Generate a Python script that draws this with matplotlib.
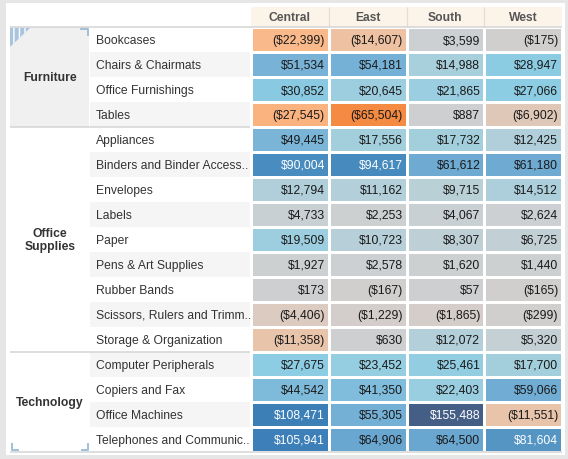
import matplotlib
matplotlib.use('Agg')
import matplotlib.pyplot as plt
import numpy as np
from matplotlib.colors import LinearSegmentedColormap, TwoSlopeNorm
from matplotlib.patches import Polygon

plt.rcParams['font.family'] = ['Liberation Sans', 'DejaVu Sans']

regions = ['Central', 'East', 'South', 'West']
categories = ['Furniture', 'Office\nSupplies', 'Technology']
category_sizes = [4, 9, 4]
sub_categories = ['Bookcases', 'Chairs & Chairmats', 'Office Furnishings', 'Tables',
                  'Appliances', 'Binders and Binder Access..', 'Envelopes', 'Labels',
                  'Paper', 'Pens & Art Supplies', 'Rubber Bands',
                  'Scissors, Rulers and Trimm..', 'Storage & Organization',
                  'Computer Peripherals', 'Copiers and Fax', 'Office Machines',
                  'Telephones and Communic..']
central = [-22399, 51534, 30852, -27545, 49445, 90004, 12794, 4733, 19509, 1927,
           173, -4406, -11358, 27675, 44542, 108471, 105941]
east = [-14607, 54181, 20645, -65504, 17556, 94617, 11162, 2253, 10723, 2578,
        -167, -1229, 630, 23452, 41350, 55305, 64906]
south = [3599, 14988, 21865, 887, 17732, 61612, 9715, 4067, 8307, 1620,
         57, -1865, 12072, 25461, 22403, 155488, 64500]
west = [-175, 28947, 27066, -6902, 12425, 61180, 14512, 2624, 6725, 1440,
        -165, -299, 5320, 17700, 59066, -11551, 81604]

# diverging orange-blue scale, colours
color_stops = [(-65504, '#f58a43'), (-27545, '#fab37e'), (-22399, '#f9b98a'),
               (-11358, '#e8c4ab'), (-4406, '#dccbc1'), (0, '#cfcfcf'),
               (3599, '#cbd0d3'), (14988, '#a9cfdc'), (27675, '#8ccde3'),
               (51534, '#78b3d7'), (61612, '#6eaad2'), (90004, '#4a8dbf'),
               (108471, '#3c7fb8'), (155488, '#455e85')]

W, H = 568, 460
ROW_TOP, ROW_H = 28, 25
FS = 8.7
px = 0.72  # one pixel in points at 100 dpi


def px_axes(x0, y0, x1, y1, **kw):
    ax = fig.add_axes([x0 / W, 1 - y1 / H, (x1 - x0) / W, (y1 - y0) / H], **kw)
    ax.set_xticks([])
    ax.set_yticks([])
    for s in ax.spines.values():
        s.set_visible(False)
    return ax


def fmt(v):
    s = '${:,}'.format(abs(v))
    return '(' + s + ')' if v < 0 else s


values = np.array([central, east, south, west]).T
n_rows = len(sub_categories)
bottom = ROW_TOP + ROW_H * n_rows

fig = plt.figure(figsize=(W / 100, H / 100), dpi=100, facecolor='#e6e6e6')

# white panel
panel = px_axes(6, 4, 565, 456)
panel.set_facecolor('white')

norm = TwoSlopeNorm(vmin=values.min(), vcenter=0, vmax=values.max())
cmap = LinearSegmentedColormap.from_list(
    'orange_blue', [(float(norm(v)), c) for v, c in color_stops])

# heatmap cells
ax = px_axes(251, ROW_TOP, 562, bottom)
ax.pcolormesh(values, cmap=cmap, norm=norm, edgecolors='white', linewidth=1.2 * px)
ax.set_xlim(0, len(regions))
ax.set_ylim(n_rows, 0)
for i in range(n_rows):
    for j in range(len(regions)):
        v = values[i, j]
        ax.text(j + 0.95, i + 0.52, fmt(v), ha='right', va='center', fontsize=FS,
                color='white' if v > 75000 else '#1a1a1a')

# column header
hdr = px_axes(251, 8, 562, ROW_TOP)
hdr.set_facecolor('#fcf3e9')
hdr.set_xlim(0, len(regions))
hdr.set_ylim(1, 0)
hdr.vlines(range(1, len(regions)), 0, 1, color='#e2ddd8', linewidth=1.2 * px)
for j, r in enumerate(regions):
    hdr.text(j + 0.5, 0.5, r, ha='center', va='center', fontsize=FS,
             fontweight='bold', color='#555555')

# sub-category labels with banding
lab = px_axes(90, ROW_TOP, 250, bottom)
lab.set_xlim(90, 250)
lab.set_ylim(n_rows, 0)
for i, name in enumerate(sub_categories):
    if i % 2 == 1:
        lab.axhspan(i, i + 1, color='#f5f5f5', linewidth=0)
    lab.text(96, i + 0.52, name, ha='left', va='center', fontsize=FS, color='#333333')

# category labels
cat = px_axes(10, ROW_TOP, 89, bottom)
cat.set_xlim(10, 89)
cat.set_ylim(n_rows, 0)
bounds = np.concatenate([[0], np.cumsum(category_sizes)])
cat.axhspan(bounds[0], bounds[1], color='#f0f0f0', linewidth=0)
for k, name in enumerate(categories):
    mid = (bounds[k] + bounds[k + 1]) / 2
    cat.text(50, mid, name, ha='center', va='center', fontsize=FS,
             fontweight='bold', color='#333333', linespacing=1.05)

# separators and selection marks in figure pixels
over = fig.add_axes([0, 0, 1, 1], zorder=10)
over.set_xlim(0, W)
over.set_ylim(H, 0)
over.set_axis_off()
ys = ROW_TOP + ROW_H * bounds
over.hlines([ys[0], ys[-1]], 10, 562, color='#d4d4d4', linewidth=1.5 * px)
over.hlines(ys[1:-1], 10, 250, color='#d4d4d4', linewidth=1.5 * px)

mark = '#a3c0d9'
over.add_patch(Polygon([(10, ys[0] + 1), (30, ys[0] + 1), (10, ys[0] + 20)],
                       closed=True, facecolor='#a9c4df', edgecolor='white',
                       hatch='|||', linewidth=0))
over.plot([80, 88, 88], [ys[0] + 1.5, ys[0] + 1.5, ys[0] + 9], color=mark,
          linewidth=2 * px, solid_capstyle='butt')
yb = ys[-1] - 2
over.plot([12, 12, 19], [yb - 7, yb, yb], color=mark, linewidth=2 * px,
          solid_capstyle='butt')
over.plot([81, 88, 88], [yb, yb, yb - 7], color=mark, linewidth=2 * px,
          solid_capstyle='butt')

fig.savefig('out.png', dpi=100, facecolor=fig.get_facecolor())
